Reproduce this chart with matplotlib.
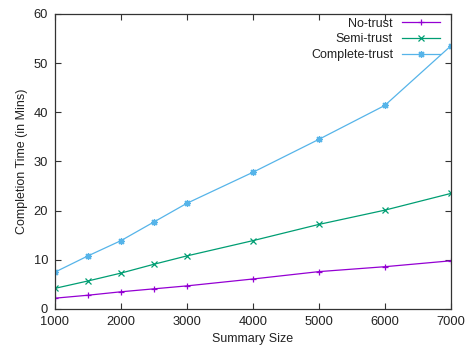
import matplotlib
matplotlib.use("Agg")
import matplotlib.pyplot as plt

plt.rcParams['font.family'] = ['Liberation Sans', 'DejaVu Sans']

sizes = [1000, 1500, 2000, 2500, 3000, 4000, 5000, 6000, 7000]
no_trust = [2.2, 2.8, 3.5, 4.1, 4.7, 6.1, 7.6, 8.6, 9.8]
semi_trust = [4.2, 5.7, 7.3, 9.1, 10.8, 13.9, 17.2, 20.1, 23.5]
complete_trust = [7.5, 10.8, 13.9, 17.7, 21.5, 27.8, 34.5, 41.4, 53.5]

labels = ["No-trust", "Semi-trust", "Complete-trust"]
colors = ["#9400D3", "#009E73", "#56B4E9"]
markers = ["+", "x", (8, 2, 0)]

fig = plt.figure(figsize=(4.74, 3.55), dpi=100)
ax = fig.add_axes([0.116, 0.1296, 0.835, 0.831])

for ys, lab, c, m in zip([no_trust, semi_trust, complete_trust], labels, colors, markers):
    ax.plot(sizes, ys, color=c, marker=m, markersize=5, linewidth=0.9,
            markeredgewidth=0.9, label=lab)

ax.set_xlim(1000, 7000)
ax.set_ylim(0, 60)
ax.set_xticks([1000, 2000, 3000, 4000, 5000, 6000, 7000])
ax.set_yticks([0, 10, 20, 30, 40, 50, 60])
ax.tick_params(direction='in', top=True, right=True, labelsize=9.3, length=4, width=0.8, pad=5,
               colors='#333333', labelcolor='#222222')
for s in ax.spines.values():
    s.set_linewidth(0.9)
    s.set_color('#333333')

ax.set_xlabel("Summary Size", fontsize=9, color='#222222')
ax.set_ylabel("Completion Time (in Mins)", fontsize=9, color='#222222')

leg = ax.legend(loc='upper right', frameon=False, markerfirst=False, fontsize=9,
                handlelength=3.0, labelspacing=0.3, borderaxespad=0.0,
                borderpad=0.3, handletextpad=0.75, bbox_to_anchor=(0.982, 1.0))
for t in leg.get_texts():
    t.set_color('#222222')

fig.savefig("out.png", dpi=100)
